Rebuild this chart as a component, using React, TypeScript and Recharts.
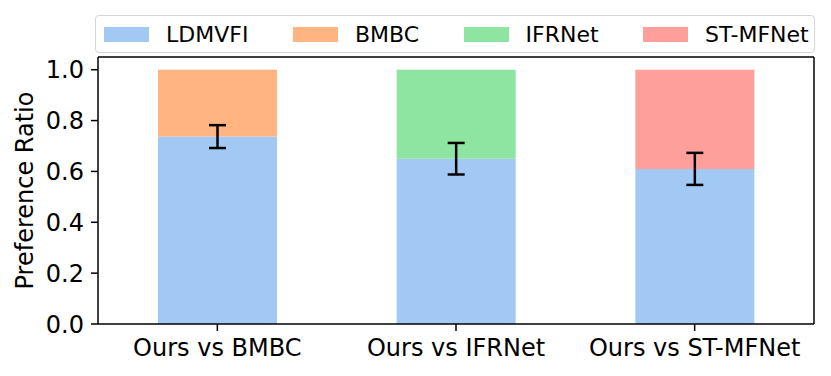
import { BarChart, Bar, XAxis, YAxis, ErrorBar } from "recharts";

const categories = ["Ours vs BMBC", "Ours vs IFRNet", "Ours vs ST-MFNet"];
const methods = ["LDMVFI", "BMBC", "IFRNet", "ST-MFNet"];
const colors = ["#a1c9f4", "#ffb482", "#8de5a1", "#ff9f9b"];

// share of votes for our method (bottom of each bar) and its error
const oursShare = [0.737, 0.65, 0.61];
const oursErr = [0.045, 0.062, 0.063];
// which competitor each bar is against, and its share (top part)
const rivals = ["BMBC", "IFRNet", "ST-MFNet"];
const rivalShare = [0.263, 0.35, 0.39];

const yTicks = [0, 0.2, 0.4, 0.6, 0.8, 1.0];

const data = categories.map((name, i) => ({
  name,
  LDMVFI: oursShare[i],
  err: oursErr[i],
  [rivals[i]]: rivalShare[i],
}));

const FONT = "'DejaVu Sans', sans-serif";
const tickStyle = { fontSize: 24, fill: "#000", fontFamily: FONT };
const spine = { stroke: "#000", strokeWidth: 1.5 };

function LegendBox() {
  return (
    <div
      style={{
        position: "absolute",
        left: 95,
        top: 15,
        width: 720,
        height: 38,
        boxSizing: "border-box",
        border: "1.5px solid #d6d6d6",
        borderRadius: 4,
        display: "flex",
        alignItems: "center",
        paddingLeft: 8,
        fontFamily: FONT,
        fontSize: 22,
        color: "#000",
        background: "#fff",
        whiteSpace: "nowrap",
      }}
    >
      {methods.map((m, i) => (
        <div key={m} style={{ display: "flex", alignItems: "center", marginRight: i < methods.length - 1 ? 44.5 : 0 }}>
          <span style={{ width: 45, height: 15, background: colors[i], marginRight: 17 }} />
          <span>{m}</span>
        </div>
      ))}
    </div>
  );
}

export default function App() {
  return (
    <div style={{ position: "absolute", left: 0, top: 0, width: 831, height: 376, background: "#fff" }}>
      <BarChart
        width={831}
        height={376}
        data={data}
        margin={{ top: 56, right: 16, bottom: 0, left: 0 }}
      >
        <XAxis
          dataKey="name"
          height={52}
          tick={tickStyle}
          tickSize={7}
          tickMargin={8}
          tickLine={spine}
          axisLine={spine}
        />
        <XAxis xAxisId="top" dataKey="name" orientation="top" height={1} tick={false} tickLine={false} axisLine={spine} />
        <YAxis
          width={98}
          domain={[0, 1.05]}
          ticks={yTicks}
          tickFormatter={(v: number) => v.toFixed(1)}
          tick={tickStyle}
          tickSize={7}
          tickMargin={7}
          tickLine={spine}
          axisLine={spine}
          label={{
            value: "Preference Ratio",
            angle: -90,
            position: "insideLeft",
            offset: 24,
            style: { textAnchor: "middle", fontSize: 24, fill: "#000", fontFamily: FONT },
          }}
        />
        <YAxis yAxisId="right" orientation="right" width={1} domain={[0, 1.05]} tick={false} tickLine={false} axisLine={spine} />
        {methods.map((m, i) => (
          <Bar key={m} dataKey={m} stackId="a" fill={colors[i]} barSize={119} isAnimationActive={false}>
            {m === "LDMVFI" && (
              <ErrorBar dataKey="err" width={8.5} strokeWidth={2.5} stroke="#000" />
            )}
          </Bar>
        ))}
      </BarChart>
      <LegendBox />
    </div>
  );
}
